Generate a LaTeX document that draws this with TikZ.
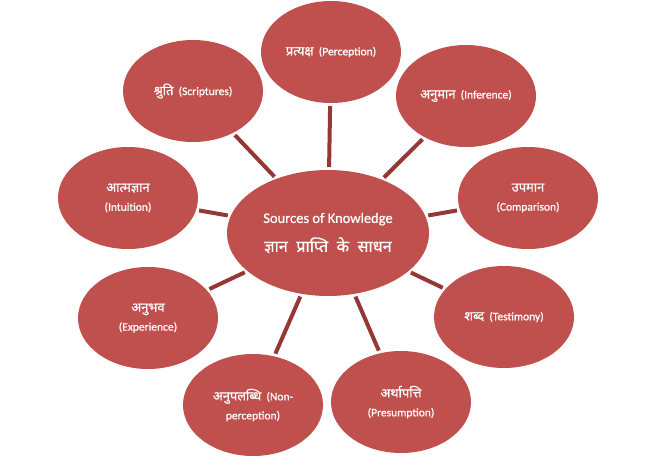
\documentclass[tikz,border=0pt]{standalone}
\usepackage{fontspec}
\setmainfont{Carlito}[FakeBold=0.8]
\newfontfamily\dev[Script=Devanagari,Scale=1.12,FakeBold=0.6]{Noto Sans}
\usetikzlibrary{shapes.geometric}
\definecolor{fillred}{RGB}{192,80,77}
\definecolor{linered}{RGB}{149,55,53}
\begin{document}
\begin{tikzpicture}[x=1pt,y=-1pt,
  bubble/.style={ellipse, fill=fillred, minimum width=140pt, minimum height=102pt,
    inner sep=0pt, outer sep=0pt, text=white, align=center,
    font=\fontsize{11.5}{19}\selectfont},
  hub/.style={bubble, minimum width=202pt, minimum height=126pt,
    font=\fontsize{14.5}{29}\selectfont},
  conn/.style={draw=linered, line width=4pt, shorten <=3pt, shorten >=3pt}]
\useasboundingbox (0,0) rectangle (660,469);

\node[hub] (hub) at (328,233) {Sources of Knowledge\\{\dev\bfseries ज्ञान\ \ प्राप्ति\ \ के\ \ साधन}};

\node[bubble] (pr) at (331,52) {{\dev प्रत्यक्ष}\ \ (Perception)};
\node[bubble] (an) at (466,96) {{\dev अनुमान}\ \ (Inference)};
\node[bubble] (up) at (528,198) {{\dev उपमान}\\(Comparison)};
\node[bubble] (sh) at (504,317) {{\dev शब्द}\ \ (Testimony)};
\node[bubble] (ar) at (401,402) {{\dev अर्थापत्ति}\\(Presumption)};
\node[bubble] (al) at (253,405) {{\dev अनुपलब्धि}\ \ (Non-\\perception)};
\node[bubble] (ab) at (148,318) {{\dev अनुभव}\\(Experience)};
\node[bubble] (at) at (128,198) {{\dev आत्मज्ञान}\\(Intuition)};
\node[bubble] (sr) at (193,91) {{\dev श्रुति}\ \ (Scriptures)};

\foreach \n in {pr,an,up,sh,ar,al,ab,at,sr}
  \draw[conn] (hub) -- (\n);
\end{tikzpicture}
\end{document}
